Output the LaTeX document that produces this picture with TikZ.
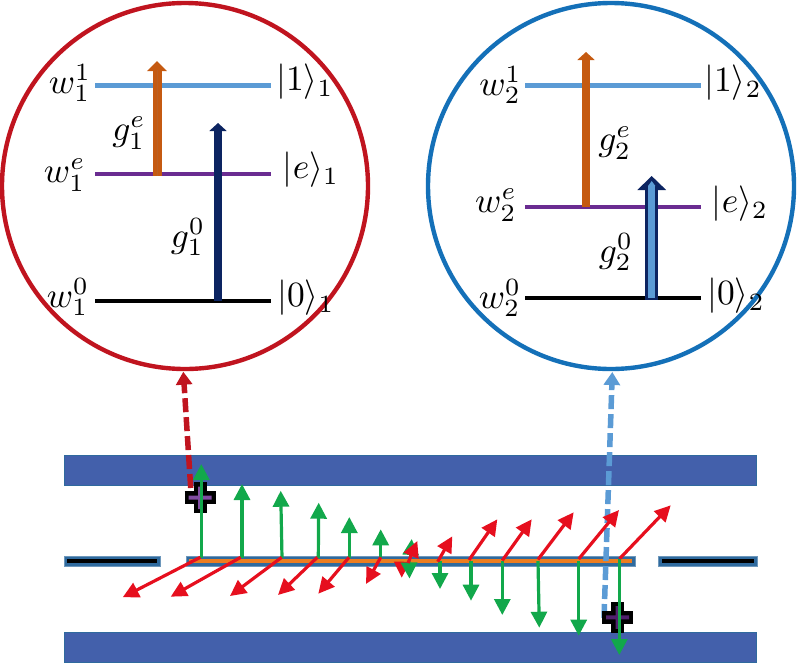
\documentclass[tikz,border=0pt]{standalone}
\usetikzlibrary{arrows.meta}
\definecolor{cRed}{HTML}{C0141F}
\definecolor{cBlue}{HTML}{1470B8}
\definecolor{cLight}{HTML}{5B9BD5}
\definecolor{cPurple}{HTML}{6A2C91}
\definecolor{cOrange}{HTML}{C55A11}
\definecolor{cNavy}{HTML}{0C2461}
\definecolor{cBar}{HTML}{4360AB}
\definecolor{cEdge}{HTML}{2F6A9E}
\definecolor{cCore}{HTML}{ED7D1F}
\definecolor{cField}{HTML}{12A84B}
\definecolor{cForce}{HTML}{E60F1E}
\tikzset{
  ring/.style={draw=#1,line width=4.4pt,circle,inner sep=0pt,outer sep=0pt,minimum size=366pt},
  lvl/.style={draw=#1,line width=4.2pt},
  lbl/.style={inner sep=0pt,scale=3.55},
  thickarrow/.style={draw=cOrange,line width=9pt,-{Triangle[width=19pt,length=10pt]}},
  navyarrow/.style={draw=cNavy,line width=8pt,-{Triangle[width=17pt,length=8pt]}},
  plate/.style={fill=cBar,draw=cEdge,line width=0.8pt},
  feed/.style={fill=cEdge,draw=cEdge!70!white,line width=0.6pt},
  fieldarrow/.style={draw=cField,line width=3.2pt,-{Triangle[width=16pt,length=16pt]}},
  forcearrow/.style={draw=cForce,line width=3.2pt,-{Triangle[width=15.5pt,length=16pt]}},
  linkarrow/.style={draw=#1,line width=5.5pt,dash pattern=on 14pt off 5pt,-{Triangle[width=16pt,length=13pt]}},
  crossout/.style={draw=black,line width=13pt},
}
\begin{document}
\begin{tikzpicture}[x=1pt,y=-1pt]
\useasboundingbox (0,0) rectangle (797,662);
% plates and strip line
\node[plate,minimum width=692.5pt,minimum height=29.5pt,inner sep=0pt,outer sep=0pt] (plateT) at (410.2,470.5) {};
\node[plate,minimum width=692.5pt,minimum height=30pt,inner sep=0pt,outer sep=0pt] (plateB) at (410.2,647) {};
\node[feed,minimum width=96pt,minimum height=10pt,inner sep=0pt,outer sep=0pt] (feedL) at (112,561.3) {};
\node[feed,minimum width=449pt,minimum height=10pt,inner sep=0pt,outer sep=0pt] (feedM) at (410.5,561.3) {};
\node[feed,minimum width=99pt,minimum height=10pt,inner sep=0pt,outer sep=0pt] (feedR) at (707.5,561.3) {};
\fill[black] (67,559.4) rectangle (157,563.4);
\fill[cCore] (189,559.4) rectangle (632,563.4);
\fill[black] (662,559.4) rectangle (754,563.4);
% circles
\node[ring=cRed] (circL) at (185,186) {};
\node[ring=cBlue] (circR) at (611,186) {};
% levels left
\coordinate (a1) at (95,85.5); \coordinate (b1) at (271,85.5);
\coordinate (a2) at (95,173.7); \coordinate (b2) at (271,173.7);
\coordinate (a3) at (95,300.7); \coordinate (b3) at (271,300.7);
\draw[lvl=cLight] (a1) -- (b1);
\draw[lvl=cPurple] (a2) -- (b2);
\draw[lvl=black] (a3) -- (b3);
% levels right
\coordinate (c1) at (525,85.5); \coordinate (d1) at (701,85.5);
\coordinate (c2) at (525,207.3); \coordinate (d2) at (701,207.3);
\coordinate (c3) at (525,298); \coordinate (d3) at (701,298);
\draw[lvl=cLight] (c1) -- (d1);
\draw[lvl=cPurple] (c2) -- (d2);
\draw[lvl=black] (c3) -- (d3);
% coupling arrows
\coordinate (ge1s) at (157,175.5); \coordinate (ge1t) at (157,61);
\draw[thickarrow] (ge1s) -- (ge1t);
\coordinate (ge1m) at (157,70);
\draw[draw=cOrange!85!gray,line width=0.6pt] (ge1s) -- (ge1m);
\coordinate (g01s) at (218,300.7); \coordinate (g01t) at (218,123);
\draw[navyarrow] (g01s) -- (g01t);
\coordinate (ge2s) at (586,207); \coordinate (ge2t) at (586,52);
\draw[thickarrow,line width=8pt,-{Triangle[width=17pt,length=8pt]}] (ge2s) -- (ge2t);
\coordinate (g02s) at (651.7,299.5); \coordinate (g02t) at (651.7,176);
\draw[draw=cNavy,line width=13.5pt,-{Triangle[width=28pt,length=14pt]}] (g02s) -- (g02t);
\coordinate (g02is) at (651.7,298); \coordinate (g02it) at (651.7,181);
\draw[draw=cLight,line width=7pt,-{Triangle[width=7pt,length=5pt]}] (g02is) -- (g02it);
% labels left
\node[lbl] (w11) at (70,83) {$w_1^1$};
\node[lbl] (w1e) at (64.7,175) {$w_1^e$};
\node[lbl] (w10) at (68,297) {$w_1^0$};
\node[lbl] (k11) at (305,82) {$|1\rangle_1$};
\node[lbl] (k1e) at (311,170) {$|e\rangle_1$};
\node[lbl] (k10) at (306,298) {$|0\rangle_1$};
\node[lbl] (g1e) at (129,133) {$g_1^e$};
\node[lbl] (g10) at (188,237) {$g_1^0$};
% labels right
\node[lbl] (w21) at (500.5,85) {$w_2^1$};
\node[lbl] (w2e) at (496,205) {$w_2^e$};
\node[lbl] (w20) at (500,298) {$w_2^0$};
\node[lbl] (k21) at (733,83) {$|1\rangle_2$};
\node[lbl] (k2e) at (740,204) {$|e\rangle_2$};
\node[lbl] (k20) at (736,296) {$|0\rangle_2$};
\node[lbl] (g2e) at (615,143) {$g_2^e$};
\node[lbl] (g20) at (616,252) {$g_2^0$};
% dashed links
\coordinate (lnkLs) at (190.7,488); \coordinate (lnkLt) at (183.3,371.7);
\draw[linkarrow=cRed] (lnkLs) -- (lnkLt);
\coordinate (lnkRs) at (604,618); \coordinate (lnkRt) at (612.3,372);
\draw[linkarrow=cLight] (lnkRs) -- (lnkRt);
% qubits
\coordinate (qL) at (200,497.7);
\draw[crossout] ([xshift=-15.5pt]qL) -- ([xshift=15.5pt]qL) ([yshift=-15.5pt]qL) -- ([yshift=15.5pt]qL);
\fill[cPurple!85!white] (188.5,495.7) rectangle (211.5,499.7) (198,486.5) rectangle (202,509);
\coordinate (qR) at (617.7,617.3);
\draw[crossout] ([xshift=-15.5pt]qR) -- ([xshift=15.5pt]qR) ([yshift=-15.5pt]qR) -- ([yshift=15.5pt]qR);
\fill[cPurple!75!black] (606.2,615.3) rectangle (629.2,619.3) (615.7,606) rectangle (619.7,628.8);
% field arrows
\foreach \n/\bx/\by/\tx/\ty in {
 1/201.3/558/201.3/464, 2/242/558/242/484, 3/282/558/280.7/490.7,
 4/318.3/558/318.7/502.7, 5/349.3/558/349.3/517, 6/380.7/558/380.7/529.3,
 7/410.5/558/411.7/539}{
  \coordinate (fb\n) at (\bx,\by); \coordinate (ft\n) at (\tx,\ty);
  \draw[fieldarrow] (fb\n) -- (ft\n);
}
\foreach \n/\bx/\by/\tx/\ty in {
 8/440/561/440/589, 9/471/561/471/600.7, 10/502.3/561/502.3/615,
 11/538/561/539.3/627.7, 12/578.7/561/578.7/635.7}{
  \coordinate (fb\n) at (\bx,\by); \coordinate (ft\n) at (\tx,\ty);
  \draw[fieldarrow] (fb\n) -- (ft\n);
}
% force arrows
\foreach \n/\bx/\by/\tx/\ty in {
 1/200.3/557.3/122.7/597.3, 2/240.7/557.3/170.7/596.7, 3/281.7/557.3/230/596,
 4/317.3/557.3/278/595, 5/349/557.3/318.3/593.7, 6/380.7/557.3/366/584,
 14/402/562/401.7/577.7}{
  \coordinate (rb\n) at (\bx,\by); \coordinate (rt\n) at (\tx,\ty);
  \draw[forcearrow] (rb\n) -- (rt\n);
}
\coordinate (fb15) at (409,561); \coordinate (ft15) at (409.5,578.5);
\draw[fieldarrow] (fb15) -- (ft15);
\foreach \n/\bx/\by/\tx/\ty in {
 7/408/563/417.3/541, 8/437.7/561.7/452.3/536.3, 9/469/560/497.3/519.3,
 10/502.3/560.5/531.7/519.3, 11/538/559.5/573.7/512.3, 12/578.7/559/619/510,
 13/619.3/559/670.7/505.3}{
  \coordinate (rb\n) at (\bx,\by); \coordinate (rt\n) at (\tx,\ty);
  \draw[forcearrow] (rb\n) -- (rt\n);
}
\coordinate (fb13) at (619.3,559); \coordinate (ft13) at (619.3,655);
\draw[fieldarrow] (fb13) -- (ft13);
\end{tikzpicture}
\end{document}
